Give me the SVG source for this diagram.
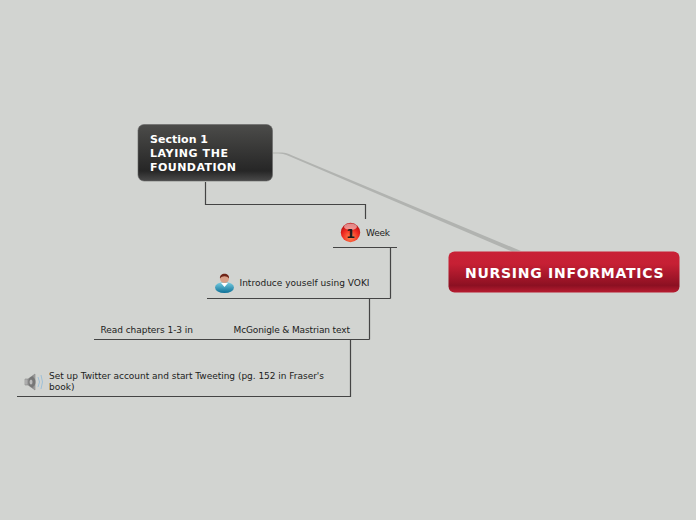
<svg xmlns="http://www.w3.org/2000/svg" width="696" height="520" viewBox="0 0 696 520">
<style>
text{font-family:"DejaVu Sans",Verdana,sans-serif}
.t{font-size:9px;fill:#1c1c1c}
.b{font-weight:bold;fill:#fff}
.l{fill:none;stroke:#444;stroke-width:1.2}
</style>
<defs>
<linearGradient id="dark" x1="0" y1="0" x2="0" y2="1"><stop offset="0" stop-color="#4c4c4a"/><stop offset=".82" stop-color="#262626"/><stop offset="1" stop-color="#4a4a4a"/></linearGradient>
<linearGradient id="red" x1="0" y1="0" x2="0" y2="1"><stop offset="0" stop-color="#c92136"/><stop offset=".3" stop-color="#c62034"/><stop offset=".83" stop-color="#8c1022"/><stop offset="1" stop-color="#b81c30"/></linearGradient>
<radialGradient id="ball" cx=".5" cy=".75" r=".65"><stop offset="0" stop-color="#ff8a50"/><stop offset=".65" stop-color="#f02a20"/><stop offset="1" stop-color="#c01212"/></radialGradient>
<linearGradient id="shirt" x1="0" y1="0" x2="0" y2="1"><stop offset="0" stop-color="#7cd0e4"/><stop offset="1" stop-color="#0c6f96"/></linearGradient>
<linearGradient id="spk" x1="0" y1="0" x2="1" y2="0"><stop offset="0" stop-color="#c4c4c4"/><stop offset=".6" stop-color="#666"/><stop offset="1" stop-color="#aaa"/></linearGradient>
</defs>
<rect width="696" height="520" fill="#d2d4d1"/>
<g id="connectors">
<path d="M273 152.500H280C286 152.500 289 154 294 156.200L521 251L512 251.500L290 156.500C285 154 282 153.500 273 153.500Z" fill="#b1b3b0"/>
<path class="l" d="M205.500 182V204.500H365.500V219"/>
<path class="l" d="M333 247.500H397"/>
<path class="l" d="M390.500 247.500V298.500"/>
<path class="l" d="M207 298.500H390.500" stroke-width="1.400"/>
<path class="l" d="M369.500 298.500V339.500"/>
<path class="l" d="M94 339.500H369.500"/>
<path class="l" d="M350.500 339.500V396.500H17"/>
</g>
<g id="root">
<rect x="448.500" y="251.500" width="231" height="41" rx="6" fill="url(#red)"/>
<text x="465" y="278" class="b" font-size="14" textLength="198.500" lengthAdjust="spacing">NURSING INFORMATICS</text>
</g>
<g id="section">
<rect x="138" y="124.500" width="134.500" height="56.500" rx="6" fill="url(#dark)" stroke="#666" stroke-width=".6"/>
<text x="150" y="143" class="b" font-size="11" textLength="58" lengthAdjust="spacing">Section 1</text>
<text x="150" y="157" class="b" font-size="11" textLength="78" lengthAdjust="spacing">LAYING THE</text>
<text x="150" y="171" class="b" font-size="11" textLength="86" lengthAdjust="spacing">FOUNDATION</text>
</g>
<g id="week">
<circle cx="350.500" cy="232.500" r="9.700" fill="url(#ball)"/>
<ellipse cx="350.500" cy="226.800" rx="6.500" ry="3.200" fill="#fff" opacity=".5"/>
<text x="350.500" y="237.500" text-anchor="middle" font-size="13" font-weight="bold" fill="#1c1c1c">1</text>
<text x="366" y="236" class="t" textLength="24" lengthAdjust="spacing">Week</text>
</g>
<g id="voki">
<ellipse cx="224.500" cy="287.500" rx="9.500" ry="5.500" fill="url(#shirt)"/>
<path d="M221 283L224.500 287L228 283Z" fill="#fff"/>
<circle cx="224.500" cy="278.500" r="4.500" fill="#d8a088"/>
<path d="M220 278.500C219 272 230 272 229 278.500C227 275.500 222 275.500 220 278.500Z" fill="#6e2418"/>
<text x="239.500" y="286" class="t" textLength="130" lengthAdjust="spacing">Introduce youself using VOKI</text>
</g>
<g id="read">
<text x="100.500" y="333" class="t" textLength="92.500" lengthAdjust="spacing">Read chapters 1-3 in</text>
<text x="233.500" y="333" class="t" textLength="116.500" lengthAdjust="spacing">McGonigle &amp; Mastrian text</text>
</g>
<g id="twitter">
<path d="M25 379H28L35 374V390L28 385H25Z" fill="url(#spk)" stroke="#888" stroke-width=".6"/>
<ellipse cx="32" cy="382" rx="3.500" ry="5" fill="#777"/>
<ellipse cx="31" cy="382" rx="1.500" ry="2.500" fill="#bbb"/>
<path d="M38 377Q41 382 38 387M41 375Q44 382 41 389" fill="none" stroke="#9ec0d8"/>
<text x="49" y="379" class="t" textLength="275" lengthAdjust="spacing">Set up Twitter account and start Tweeting (pg. 152 in Fraser's</text>
<text x="49" y="390" class="t">book)</text>
</g>
</svg>
